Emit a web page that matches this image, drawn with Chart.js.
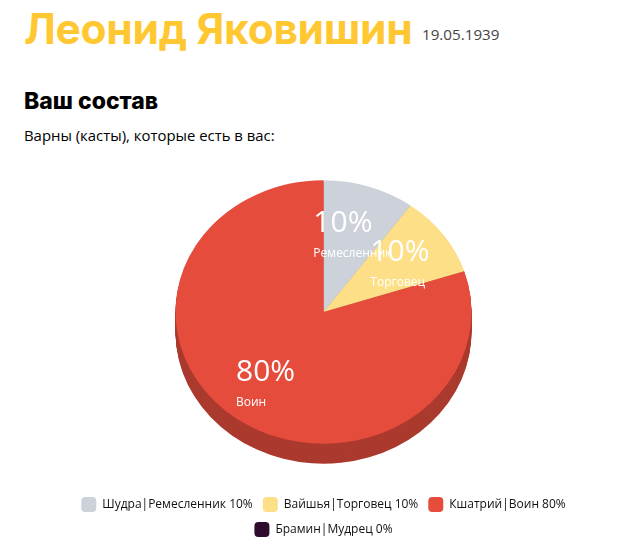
<!DOCTYPE html>
<html>
<head>
<meta charset="utf-8">
<script src="https://cdn.jsdelivr.net/npm/chart.js@4"></script>
<style>
body{margin:0;background:#fff;font-family:"Open Sans",sans-serif;color:#000}
.name{position:absolute;left:24px;top:3px;white-space:nowrap;font:700 42.5px Inter,sans-serif;letter-spacing:-.3px;color:#ffc832}
.date{position:absolute;left:422px;top:24px;font-size:15.2px;color:#444}
h2{position:absolute;left:24px;top:87px;margin:0;font:800 23px Inter,sans-serif}
p{position:absolute;left:24px;top:125px;margin:0;font-size:14.9px}
.wrap{position:absolute;left:34px;top:137px;width:579px;height:410px}
</style>
</head>
<body>
<span class="name">Леонид Яковишин</span><span class="date">19.05.1939</span>
<h2>Ваш состав</h2>
<p>Варны (касты), которые есть в вас:</p>
<div class="wrap"><canvas id="myChart"></canvas></div>
<script>
const legendLabels=['Шудра|Ремесленник 10%','Вайшья|Торговец 10%','Кшатрий|Воин 80%','Брамин|Мудрец 0%'];
const sliceNames=['Ремесленник','Торговец','Воин',''];
const values=[10,10,80,0];
const colors=['#cdd1da','#fddf88','#e64c3c','#2e0a2e'];
const sideColors=['#9a9da4','#bea766','#ab3a2e','#22081f'];

const squash=0.89;   // pie is tilted
const depth=20;
const labelShift=[[-33,-17],[-13,-12],[-44,16]];

const tiltPlugin={
  id:'tilt',
  beforeDatasetDraw(chart,args){
    const ctx=chart.ctx;
    const arcs=chart.getDatasetMeta(args.index).data;
    const cx=arcs[0].x, cy=arcs[0].y;
    // side of the pie
    arcs.forEach((arc,i)=>{
      if(values[i]===0) return;
      ctx.fillStyle=sideColors[i];
      for(let d=depth;d>0;d--){
        ctx.beginPath();
        ctx.moveTo(cx,cy+d);
        ctx.ellipse(cx,cy+d,arc.outerRadius,arc.outerRadius*squash,0,arc.startAngle,arc.endAngle);
        ctx.closePath();
        ctx.fill();
      }
    });
    ctx.save();
    ctx.translate(cx,cy);
    ctx.scale(1,squash);
    ctx.translate(-cx,-cy);
  },
  afterDatasetDraw(chart,args){
    chart.ctx.restore();
    const ctx=chart.ctx;
    const arcs=chart.getDatasetMeta(args.index).data;
    ctx.fillStyle='#fff';
    ctx.textAlign='left';
    ctx.textBaseline='alphabetic';
    arcs.forEach((arc,i)=>{
      if(values[i]===0) return;
      const mid=(arc.startAngle+arc.endAngle)/2;
      const x=arc.x+Math.cos(mid)*arc.outerRadius/2+labelShift[i][0];
      const y=arc.y+Math.sin(mid)*arc.outerRadius*squash/2+labelShift[i][1];
      ctx.font='30px "Open Sans"';
      ctx.fillText(values[i]+'%',x,y);
      ctx.font='12px "Open Sans"';
      ctx.fillText(sliceNames[i],x,y+25);
    });
  }
};

new Chart(document.getElementById('myChart'),{
  type:'pie',
  data:{
    labels:legendLabels,
    datasets:[{data:values,backgroundColor:colors,borderWidth:0,radius:148}]
  },
  options:{
    responsive:true,
    maintainAspectRatio:false,
    animation:false,
    plugins:{
      tooltip:{enabled:false},
      legend:{
        position:'bottom',
        maxWidth:500,
        labels:{
          font:{family:'"Open Sans"',size:12},
          color:'#111',
          boxWidth:15,
          boxHeight:15,
          useBorderRadius:true,
          borderRadius:4,
          padding:10
        }
      }
    }
  },
  plugins:[tiltPlugin]
});
</script>
</body>
</html>
